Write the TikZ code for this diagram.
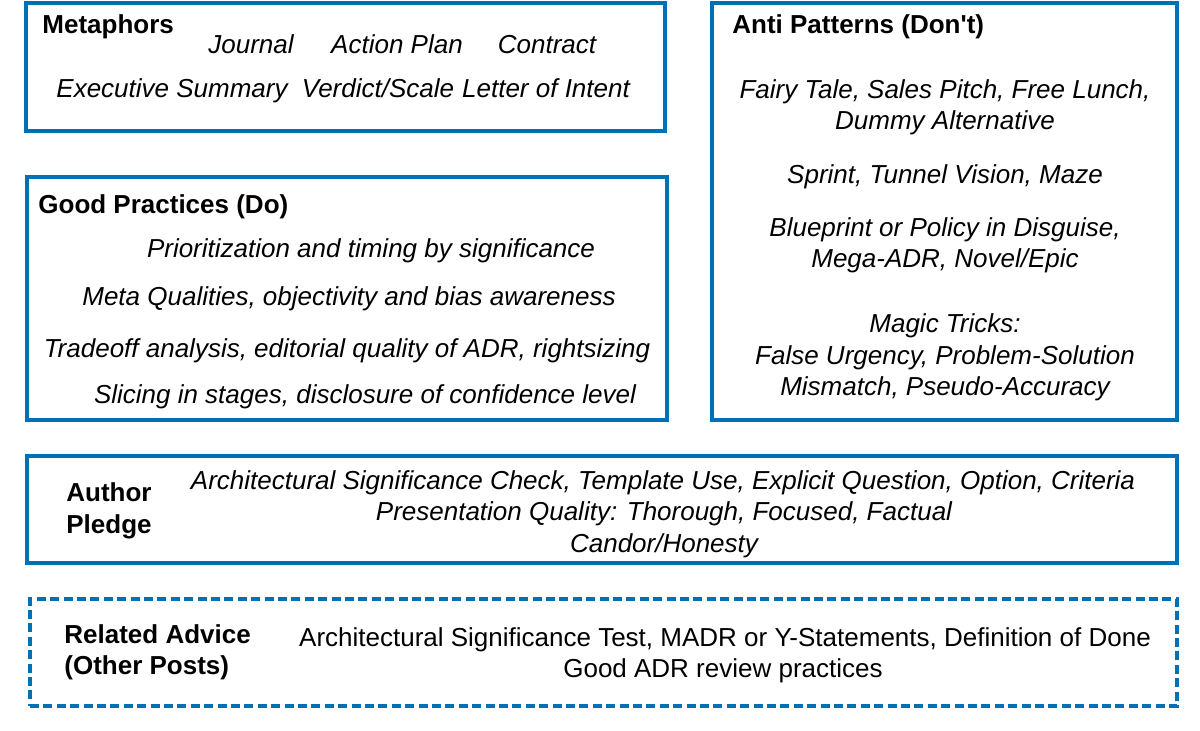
\documentclass[tikz,border=0pt]{standalone}
\usepackage{fontspec}
\setmainfont{Liberation Sans}
\usetikzlibrary{fit}
\definecolor{boxblue}{RGB}{0,112,180}
\begin{document}
\begin{tikzpicture}[x=0.5pt,y=-0.5pt,
  frame/.style={draw=boxblue,line width=1.6pt,inner sep=0pt},
  dashframe/.style={frame,dash pattern=on 4.5pt off 2.2pt},
  lbl/.style={inner sep=0pt,anchor=base,font=\fontsize{13pt}{15.5pt}\selectfont\itshape},
  plain/.style={inner sep=0pt,anchor=base,font=\fontsize{13pt}{15.5pt}\selectfont},
  ttl/.style={inner sep=0pt,anchor=base west,font=\fontsize{13pt}{15.5pt}\selectfont\bfseries}]
\useasboundingbox (0,0) rectangle (1200,730);
% boxes
\node[frame,fit={(26,3) (665,131)}] (meta) {};
\node[frame,fit={(27,177) (667,420)}] (good) {};
\node[frame,fit={(712,3) (1177,420)}] (anti) {};
\node[frame,fit={(27,456) (1177,563)}] (pledge) {};
\node[dashframe,fit={(30,599) (1177,706)}] (related) {};
% Metaphors
\node[ttl] (metaT) at (42,33) {Metaphors};
\node[lbl] (m1) at (251,53) {Journal};
\node[lbl] (m2) at (397,53) {Action Plan};
\node[lbl] (m3) at (547,53) {Contract};
\node[lbl] (m4) at (172,97) {Executive Summary};
\node[lbl] (m5) at (378,97) {Verdict/Scale};
\node[lbl] (m6) at (546,97) {Letter of Intent};
% Good practices
\node[ttl] (goodT) at (38,213) {Good Practices (Do)};
\node[lbl] (g1) at (371,257) {Prioritization and timing by significance};
\node[lbl] (g2) at (349,305) {Meta Qualities, objectivity and bias awareness};
\node[lbl] (g3) at (347,357) {Tradeoff analysis, editorial quality of ADR, rightsizing};
\node[lbl] (g4) at (365,403) {Slicing in stages, disclosure of confidence level};
% Anti patterns
\node[ttl] (antiT) at (732,33) {Anti Patterns (Don\textquotesingle t)};
\node[lbl] (a1) at (945,98) {Fairy Tale, Sales Pitch, Free Lunch,};
\node[lbl] (a2) at (945,129) {Dummy Alternative};
\node[lbl] (a3) at (945,183) {Sprint, Tunnel Vision, Maze};
\node[lbl] (a4) at (945,236) {Blueprint or Policy in Disguise,};
\node[lbl] (a5) at (945,267) {Mega-ADR, Novel/Epic};
\node[lbl] (a6) at (945,332) {Magic Tricks:};
\node[lbl] (a7) at (945,364) {False Urgency, Problem-Solution};
\node[lbl] (a8) at (945,395) {Mismatch, Pseudo-Accuracy};
% Author pledge
\node[ttl] (pT1) at (66,501) {Author};
\node[ttl] (pT2) at (66,533) {Pledge};
\node[lbl] (p1) at (663,489) {Architectural Significance Check, Template Use, Explicit Question, Option, Criteria};
\node[lbl] (p2) at (664,520) {Presentation Quality: Thorough, Focused, Factual};
\node[lbl] (p3) at (664,552) {Candor/Honesty};
% Related advice
\node[ttl] (rT1) at (64,643) {Related Advice};
\node[ttl] (rT2) at (64,674) {(Other Posts)};
\node[plain] (r1) at (725,646) {Architectural Significance Test, MADR or Y-Statements, Definition of Done};
\node[plain] (r2) at (723,677) {Good ADR review practices};
\end{tikzpicture}
\end{document}
